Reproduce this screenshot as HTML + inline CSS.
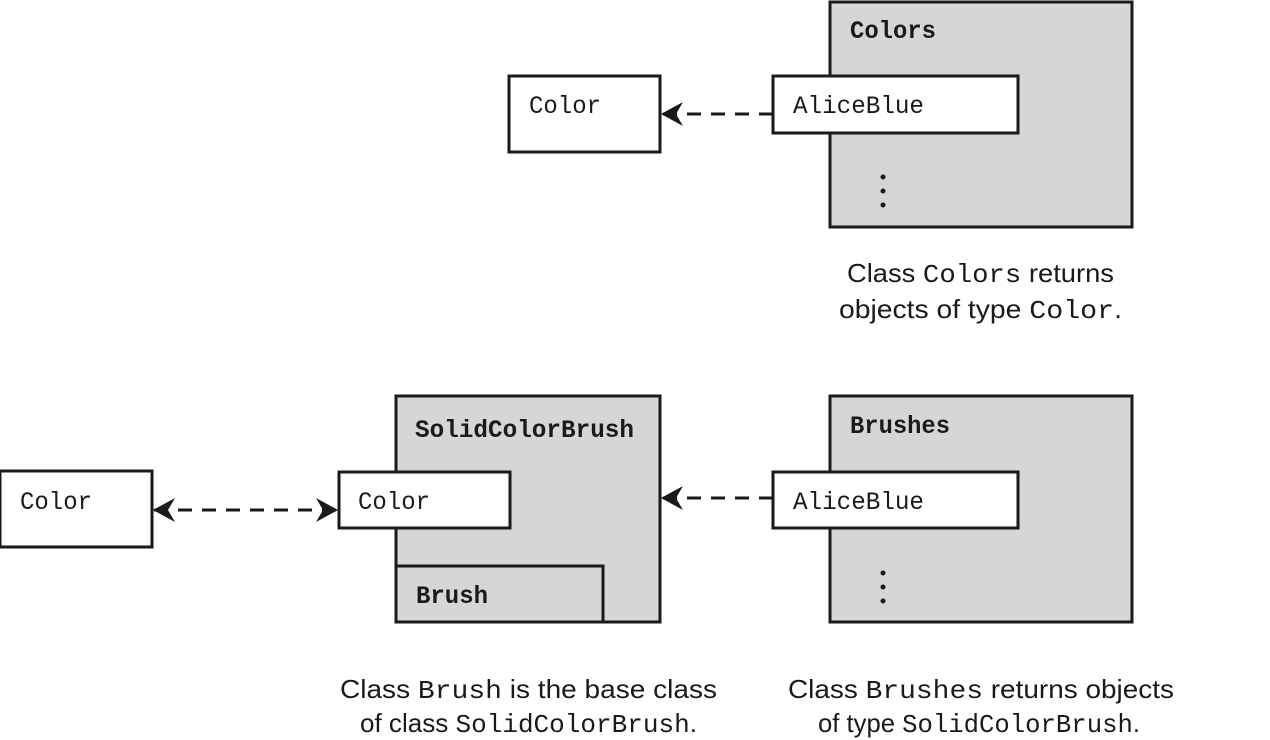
<!DOCTYPE html>
<html><head><style>body{margin:0;background:#fff}svg{display:block}</style></head><body>
<svg width="1270" height="740" xmlns="http://www.w3.org/2000/svg">
<defs>
<marker id="ah" markerWidth="22" markerHeight="24" refX="21" refY="12" orient="auto-start-reverse" markerUnits="userSpaceOnUse">
<path d="M0,0 L22,12 L0,24 L7,12 Z" fill="#1a1a1a"/>
</marker>
</defs>
<g stroke="#1a1a1a" stroke-width="3" font-family="Liberation Mono, monospace" font-size="24" fill="#1a1a1a">
<rect x="830" y="2" width="302" height="225" fill="#d6d6d6"/>
<rect x="509" y="76" width="151" height="76" fill="#fff"/>
<rect x="773" y="76" width="245" height="57" fill="#fff"/>
<line x1="773" y1="114" x2="662" y2="114" stroke-dasharray="14,10" marker-end="url(#ah)"/>
<rect x="0" y="471" width="152" height="76" fill="#fff"/>
<rect x="396" y="396" width="264" height="226" fill="#d6d6d6"/>
<rect x="339" y="472" width="171" height="56" fill="#fff"/>
<rect x="396" y="566" width="207" height="56" fill="#d6d6d6"/>
<rect x="830" y="396" width="302" height="226" fill="#d6d6d6"/>
<rect x="773" y="472" width="245" height="56" fill="#fff"/>
<line x1="773" y1="498" x2="662" y2="498" stroke-dasharray="14,10" marker-end="url(#ah)"/>
<line x1="154" y1="510" x2="337" y2="510" stroke-dasharray="14,10" marker-start="url(#ah)" marker-end="url(#ah)"/>
</g>
<g fill="#1a1a1a">
<circle cx="883" cy="177" r="2.5"/><circle cx="883" cy="191" r="2.5"/><circle cx="883" cy="205" r="2.5"/>
<circle cx="883" cy="573" r="2.5"/><circle cx="883" cy="587" r="2.5"/><circle cx="883" cy="601" r="2.5"/>
</g>
<g font-family="Liberation Mono, monospace" font-size="25" fill="#1a1a1a">
<text x="850" y="38" font-weight="bold" textLength="86" lengthAdjust="spacingAndGlyphs">Colors</text>
<text x="529" y="113" textLength="72" lengthAdjust="spacingAndGlyphs">Color</text>
<text x="793" y="113" textLength="131" lengthAdjust="spacingAndGlyphs">AliceBlue</text>
<text x="415" y="437" font-weight="bold" textLength="219" lengthAdjust="spacingAndGlyphs">SolidColorBrush</text>
<text x="850" y="433" font-weight="bold" textLength="100" lengthAdjust="spacingAndGlyphs">Brushes</text>
<text x="20" y="509" textLength="72" lengthAdjust="spacingAndGlyphs">Color</text>
<text x="358" y="509" textLength="72" lengthAdjust="spacingAndGlyphs">Color</text>
<text x="793" y="509" textLength="131" lengthAdjust="spacingAndGlyphs">AliceBlue</text>
<text x="416" y="603" font-weight="bold" textLength="72" lengthAdjust="spacingAndGlyphs">Brush</text>
</g>
<g font-family="Liberation Sans, sans-serif" font-size="26" fill="#1a1a1a">
<text x="847" y="282" textLength="267" lengthAdjust="spacingAndGlyphs">Class <tspan font-family="Liberation Mono, monospace">Colors</tspan> returns</text>
<text x="839" y="318" textLength="283" lengthAdjust="spacingAndGlyphs">objects of type <tspan font-family="Liberation Mono, monospace">Color</tspan>.</text>
<text x="340" y="698" textLength="377" lengthAdjust="spacingAndGlyphs">Class <tspan font-family="Liberation Mono, monospace">Brush</tspan> is the base class</text>
<text x="360" y="732" textLength="337" lengthAdjust="spacingAndGlyphs">of class <tspan font-family="Liberation Mono, monospace">SolidColorBrush</tspan>.</text>
<text x="788" y="698" textLength="386" lengthAdjust="spacingAndGlyphs">Class <tspan font-family="Liberation Mono, monospace">Brushes</tspan> returns objects</text>
<text x="818" y="732" textLength="322" lengthAdjust="spacingAndGlyphs">of type <tspan font-family="Liberation Mono, monospace">SolidColorBrush</tspan>.</text>
</g>
</svg>
</body></html>
